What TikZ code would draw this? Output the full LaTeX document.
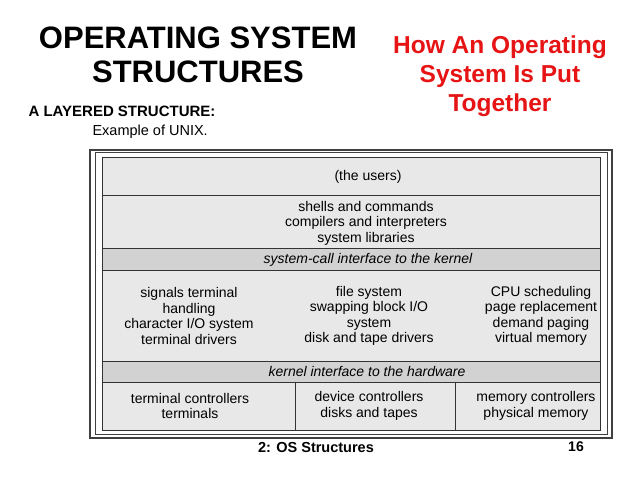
\documentclass[tikz,border=0pt]{standalone}
\usepackage{fontspec}
\setmainfont{Liberation Sans}
\begin{document}
\begin{tikzpicture}[x=1pt,y=-1pt,
  lbl/.style={align=center,font=\fontsize{14}{15.5}\selectfont},
  band/.style={fill=gray!35,draw=black!80,line width=0.8pt},
  cell/.style={fill=gray!18,draw=black!80,line width=0.8pt}]
\useasboundingbox (0,0) rectangle (638,478);
\node[font=\bfseries\fontsize{31}{34}\selectfont,align=center] (t) at (198,55) {OPERATING SYSTEM\\STRUCTURES};
\node[font=\bfseries\fontsize{24.5}{29}\selectfont,align=center,text={rgb,255:red,230;green,20;blue,20}] (t2) at (500,76) {How An Operating\\System Is Put\\Together};
\node[font=\bfseries\fontsize{15}{17}\selectfont,anchor=west] (s) at (25,111) {A LAYERED STRUCTURE:};
\node[font=\fontsize{14.5}{17}\selectfont,anchor=west] (e) at (89,132) {Example of UNIX.};
% frame
\draw[line width=1.2pt,draw=black!75] (90,150) rectangle (612,438);
\draw[line width=1pt,draw=black!75] (95,153) rectangle (607,435);
\draw[cell] (102,157) rectangle (600,195);
\draw[cell] (102,195) rectangle (600,248);
\draw[band] (102,248) rectangle (600,270);
\draw[cell] (102,270) rectangle (600,361);
\draw[band] (102,361) rectangle (600,382);
\draw[cell] (102,382) rectangle (600,430);
\draw[line width=0.8pt,draw=black!80] (295,382) -- (295,430) (455,382) -- (455,430);
\node[lbl] (u) at (368,177) {(the users)};
\node[lbl] (sh) at (366,223) {shells and commands\\compilers and interpreters\\system libraries};
\node[lbl,font=\itshape\fontsize{14}{15.5}\selectfont] (sc) at (368,260) {system-call interface to the kernel};
\node[lbl] (k1) at (189,316) {signals terminal\\handling\\character I/O system\\terminal drivers};
\node[lbl] (k2) at (369,316) {file system\\swapping block I/O\\system\\disk and tape drivers};
\node[lbl] (k3) at (541,316) {CPU scheduling\\page replacement\\demand paging\\virtual memory};
\node[lbl,font=\itshape\fontsize{14}{15.5}\selectfont] (kh) at (367,372) {kernel interface to the hardware};
\node[lbl] (h1) at (190,406) {terminal controllers\\terminals};
\node[lbl] (h2) at (369,406) {device controllers\\disks and tapes};
\node[lbl] (h3) at (536,406) {memory controllers\\physical memory};
\node[font=\bfseries\fontsize{14.5}{17}\selectfont] (f) at (316,448) {2: OS Structures};
\node[font=\bfseries\fontsize{14}{17}\selectfont] (n) at (576,447) {16};
\end{tikzpicture}
\end{document}
